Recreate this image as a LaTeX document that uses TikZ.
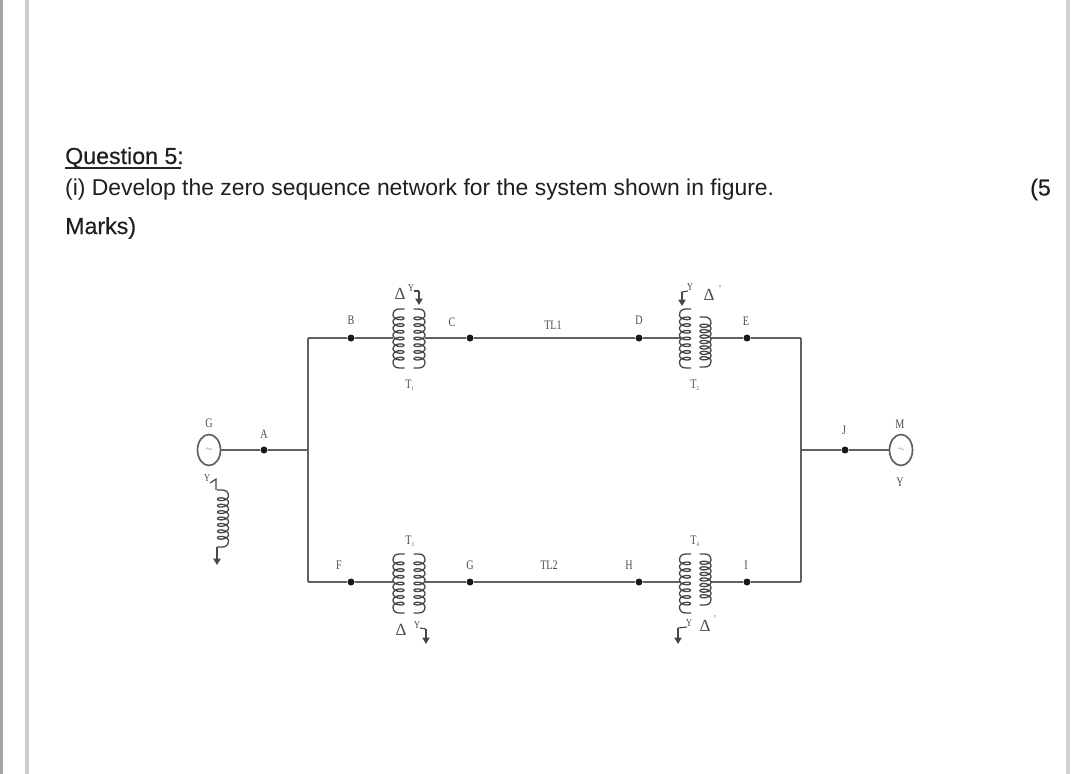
\documentclass[tikz,border=0pt]{standalone}
\usepackage{fontspec}
\setmainfont{Liberation Sans}
\newfontfamily\medfont[FakeBold=0.35]{Liberation Sans}
\newfontfamily\lblfont[FakeStretch=0.78]{Liberation Serif}
\newfontfamily\dfont{Liberation Serif}
\usetikzlibrary{arrows.meta,shapes.geometric}
\tikzset{
  wire/.style={draw=black!62,line width=1.7pt},
  thinwire/.style={draw=black!62,line width=1.1pt},
  bus/.style={circle,fill=black!90,minimum size=7pt,inner sep=0pt},
  lbl/.style={font=\lblfont\fontsize{13}{13}\selectfont,text=black!70,inner sep=0pt},
  symlbl/.style={font=\lblfont\fontsize{10.5}{10.5}\selectfont,text=black!75,inner sep=0pt},
  dlt/.style={font=\dfont\fontsize{17}{17}\selectfont,text=black!70,inner sep=0pt},
  body/.style={font=\fontsize{22.9}{24}\selectfont,text=black!88,inner sep=0pt,anchor=base west},
  bodym/.style={font=\medfont\fontsize{23.2}{24}\selectfont,text=black!88,inner sep=0pt,anchor=base west},
  gen/.style={ellipse,draw=black!62,line width=1.7pt,fill=white,minimum width=23pt,minimum height=31pt,inner sep=0pt},
  coil/.style={draw=black!72,line width=1.3pt,fill=none,line join=round},
  gnd/.style={-{Triangle[length=6.5pt,width=7.5pt]},draw=black!72,line width=1.1pt},
  gndstep/.style={draw=black!72,line width=1.1pt},
}
% #1 loop centre x, #2 y top, #3 y bottom, #4 side of the hook ends (+1 right, -1 left)
\newcommand{\vcoil}[4]{%
  \draw[coil] ({#1+#4*6},#2) -- ({#1+#4*1},#2)
    .. controls ({#1-#4*3},#2) and ({#1-#4*5.5},{#2+2}) .. ({#1-#4*5.5},{#2+6})
    -- plot[domain=180:2700,samples=140,smooth]
       ({#1+#4*5.5*cos(\x)},{#2+6+((#3-#2-12)/7)*((\x-180)/360)-2.8*sin(\x)})
    .. controls ({#1-#4*5.5},{#3-2}) and ({#1-#4*3},#3) .. ({#1+#4*1},#3)
    -- ({#1+#4*6},#3);}
\begin{document}
\begin{tikzpicture}[x=1pt,y=-1pt]
\useasboundingbox (0,0) rectangle (1080,774);
\fill[white] (0,0) rectangle (1080,774);
% page frame
\fill[black!35] (0,0) rectangle (2.5,774);
\fill[black!20] (24.5,0) rectangle (29,774);
\fill[black!18] (1065.5,0) rectangle (1070,774);
% body text
\node[bodym] (q) at (65,164) {Question 5:};
\draw[black!85,line width=1.1pt] (65,168) -- (181,168);
\node[body] (t1) at (65,195.5) {(i) Develop the zero sequence network for the system shown in figure.};
\node[bodym] (t2) at (1030,195.5) {(5};
\node[bodym] (t3) at (65,234) {Marks)};
% coordinates
\coordinate (nw) at (308,338);\coordinate (ne) at (801,338);
\coordinate (sw) at (308,582);\coordinate (se) at (801,582);
\coordinate (wm) at (308,450);\coordinate (em) at (801,450);
% frame
\draw[thinwire] (wm) -- (nw);\draw[thinwire] (wm) -- (sw);
\draw[thinwire] (em) -- (ne);\draw[thinwire] (em) -- (se);
% buses
\node[bus] (A) at (264,450) {};
\node[bus] (B) at (351,338) {};
\node[bus] (C) at (470,338) {};
\node[bus] (D) at (639,338) {};
\node[bus] (E) at (747,338) {};
\node[bus] (F) at (351,582) {};
\node[bus] (G2) at (470,582) {};
\node[bus] (H) at (639,582) {};
\node[bus] (I) at (747,582) {};
\node[bus] (J) at (845,450) {};
\node[gen] (G1) at (209,450) {};
\node[gen] (M) at (901,450) {};
\node[font=\fontsize{9}{9}\selectfont,text=black!55,inner sep=0pt] (gs) at (209,450) {$\sim$};
\node[font=\fontsize{9}{9}\selectfont,text=black!55,inner sep=0pt] (ms) at (901,450) {$\sim$};
% lines
\draw[wire] (G1) -- (A);\draw[wire] (A) -- (wm);
\draw[wire] (em) -- (J);\draw[wire] (J) -- (M);
\draw[wire] (nw) -- (B);\draw[wire] (B) -- (393,338);
\draw[wire] (425,338) -- (C);\draw[wire] (C) -- (D);\draw[wire] (D) -- (680,338);
\draw[wire] (711,338) -- (E);\draw[wire] (E) -- (ne);
\draw[wire] (sw) -- (F);\draw[wire] (F) -- (393,582);
\draw[wire] (425,582) -- (G2);\draw[wire] (G2) -- (H);\draw[wire] (H) -- (680,582);
\draw[wire] (711,582) -- (I);\draw[wire] (I) -- (se);
% transformers
\vcoil{398.5}{309}{368}{1}
\vcoil{419.5}{309}{368}{-1}
\vcoil{685}{309}{368}{1}
\vcoil{705.5}{317}{367}{-1}
\vcoil{398.5}{554}{613}{1}
\vcoil{419.5}{554}{613}{-1}
\vcoil{685}{554}{613}{1}
\vcoil{705.5}{554}{605}{-1}
% generator grounding coil
\vcoil{223}{490}{547}{-1}
\coordinate (gy) at (210,483);
\coordinate (gb) at (217,547);
\node[symlbl] (ly0) at (207,478) {Y};
\draw[gndstep] (gy) -- (216,479) -- (216,490);
\draw[gnd] (gb) -- (217,565);
% grounding symbols
\node[symlbl] (ly1) at (411,288) {Y};
\draw[gndstep] (414,291) -- (419,291);
\draw[gnd] (419,291) -- (419,305);
\node[symlbl] (ly2) at (690,287) {Y};
\draw[gndstep] (682,292) -- (688,291);
\draw[gnd] (682,292) -- (682,306);
\node[symlbl] (ly3) at (417,625) {Y};
\draw[gndstep] (420,628) -- (426,629);
\draw[gnd] (426,629) -- (426,644);
\node[symlbl] (ly4) at (689,623) {Y};
\draw[gndstep] (678,628) -- (687,627);
\draw[gnd] (678,628) -- (678,644);
% labels
\node[lbl] (lB) at (351,320) {B};
\node[lbl] (lC) at (452,322) {C};
\node[lbl] (lD) at (639,320) {D};
\node[lbl] (lE) at (746,321) {E};
\node[lbl] (lTL1) at (553,325) {TL1};
\node[lbl] (lTL2) at (549,565) {TL2};
\node[lbl] (lF) at (339,565) {F};
\node[lbl] (lG2) at (470,565) {G};
\node[lbl] (lH) at (629,565) {H};
\node[lbl] (lI) at (746,565) {I};
\node[lbl] (lA) at (264,434) {A};
\node[lbl] (lG) at (209,423) {G};
\node[lbl] (lJ) at (844,430) {J};
\node[lbl] (lM) at (900,424) {M};
\node[lbl] (lY) at (900,482) {Y};
\node[lbl] (lT1) at (410,385) {T\textsubscript{\fontsize{6}{6}\selectfont 1}};
\node[lbl] (lT2) at (695,385) {T\textsubscript{\fontsize{6}{6}\selectfont 2}};
\node[lbl] (lT3) at (410,541) {T\textsubscript{\fontsize{6}{6}\selectfont 3}};
\node[lbl] (lT4) at (695,541) {T\textsubscript{\fontsize{6}{6}\selectfont 4}};
\node[dlt] (d1) at (400,294) {Δ};
\node[dlt] (d2) at (709,295) {Δ};
\node[dlt] (d3) at (401,630) {Δ};
\node[dlt] (d4) at (705,626) {Δ};
\node[symlbl] (p2) at (720,289) {'};
\node[symlbl] (p4) at (715,619) {'};
\end{tikzpicture}
\end{document}
